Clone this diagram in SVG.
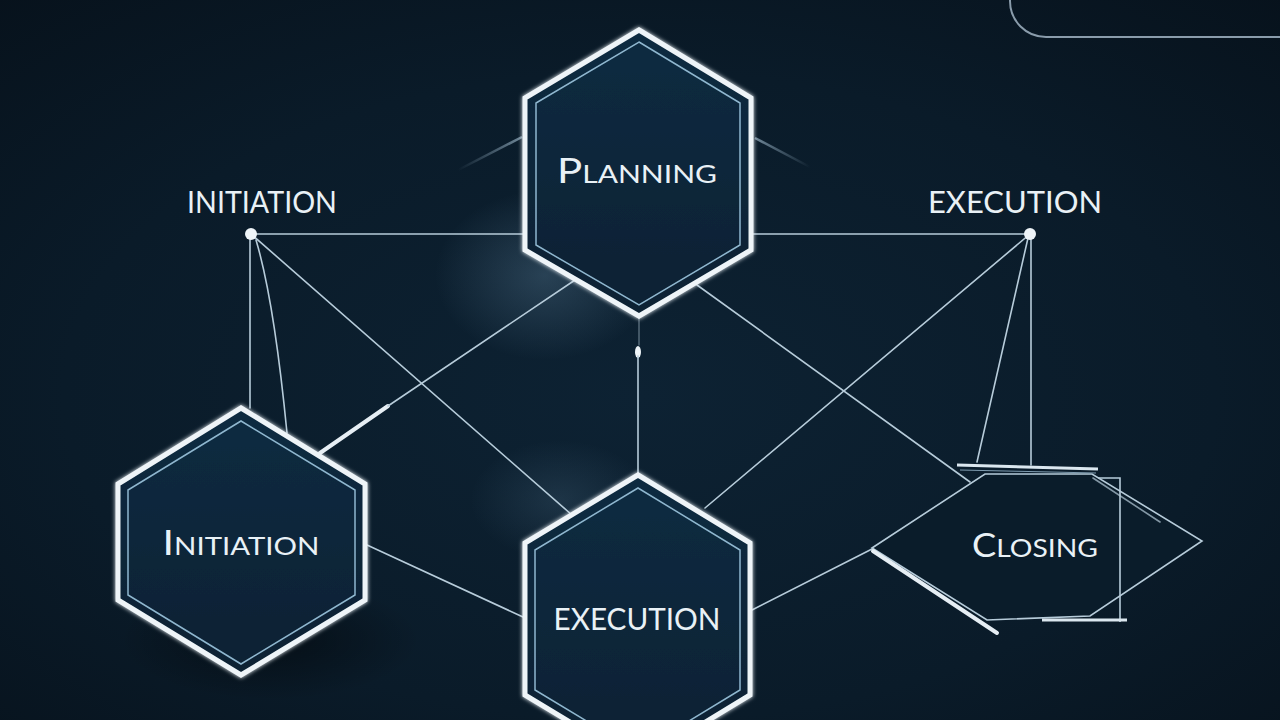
<svg xmlns="http://www.w3.org/2000/svg" width="1280" height="720" viewBox="0 0 1280 720">
  <defs>
    <radialGradient id="bg" cx="0.5" cy="0.55" r="0.75">
      <stop offset="0" stop-color="#0d2233"/>
      <stop offset="0.6" stop-color="#0a1b29"/>
      <stop offset="1" stop-color="#07121c"/>
    </radialGradient>
    <linearGradient id="hexFill" x1="0" y1="0" x2="0" y2="1">
      <stop offset="0" stop-color="#0e2b41"/>
      <stop offset="1" stop-color="#0a2133"/>
    </linearGradient>
    <radialGradient id="glow" cx="0.5" cy="0.5" r="0.5">
      <stop offset="0" stop-color="#8fbcdc" stop-opacity="0.22"/>
      <stop offset="1" stop-color="#8fbcdc" stop-opacity="0"/>
    </radialGradient>
    <radialGradient id="shadow" cx="0.5" cy="0.5" r="0.5">
      <stop offset="0" stop-color="#000000" stop-opacity="0.45"/>
      <stop offset="1" stop-color="#000000" stop-opacity="0"/>
    </radialGradient>
    <linearGradient id="fadeL" x1="0" y1="0" x2="1" y2="0">
      <stop offset="0" stop-color="#9ab4c6" stop-opacity="0"/>
      <stop offset="1" stop-color="#9ab4c6" stop-opacity="0.7"/>
    </linearGradient>
    <linearGradient id="fadeR" x1="0" y1="0" x2="1" y2="0">
      <stop offset="0" stop-color="#9ab4c6" stop-opacity="0.7"/>
      <stop offset="1" stop-color="#9ab4c6" stop-opacity="0"/>
    </linearGradient>
    <filter id="soft" x="-20%" y="-20%" width="140%" height="140%">
      <feGaussianBlur in="SourceGraphic" stdDeviation="2" result="b"/>
      <feMerge><feMergeNode in="b"/><feMergeNode in="SourceGraphic"/></feMerge>
    </filter>
    <style>
      .outer { fill: url(#hexFill); stroke: #eef4f8; stroke-width: 5; stroke-linejoin: miter; }
      .inner { fill: none; stroke: #8fb7cf; stroke-width: 1.5; }
      .conn { stroke: #b7ccda; stroke-width: 1.6; fill: none; stroke-linecap: round; }
      .thick { stroke: #e6eef4; stroke-width: 4; fill: none; stroke-linecap: round; }
      .lbl { font-family: "Lato", "Open Sans", "Liberation Sans", sans-serif; fill: #e9f1f6; text-anchor: middle; }
      .dot { fill: #eef4f8; }
    </style>
  </defs>

  <rect width="1280" height="720" fill="url(#bg)"/>
  <ellipse cx="545" cy="275" rx="110" ry="85" fill="url(#glow)"/>
  <ellipse cx="560" cy="500" rx="90" ry="60" fill="url(#glow)" opacity="0.6"/>
  <ellipse cx="270" cy="640" rx="150" ry="60" fill="url(#shadow)"/>

  <!-- top-right decorative frame -->
  <rect x="1010" y="-120" width="400" height="157" rx="36" fill="none" stroke="#8a9cab" stroke-width="2"/>

  <g id="connectors">
    <line class="conn" x1="251" y1="234" x2="525" y2="234"/>
    <line class="conn" x1="751" y1="234" x2="1030" y2="234"/>
    <line class="conn" x1="250" y1="234" x2="250" y2="408"/>
    <path class="conn" d="M256 240 Q274 300 287 433"/>
    <line class="conn" x1="251" y1="234" x2="572" y2="515"/>
    <line class="thick" x1="320" y1="453" x2="388" y2="406"/>
    <line class="conn" x1="388" y1="406" x2="578" y2="278"/>
    <line class="conn" x1="367" y1="545" x2="523" y2="617"/>
    <line class="conn" x1="639" y1="318" x2="639" y2="345" opacity="0.4"/>
    <ellipse class="dot" cx="638" cy="352" rx="3" ry="6"/>
    <line class="conn" x1="638" y1="356" x2="638" y2="474"/>
    <line class="conn" x1="697" y1="285" x2="970" y2="482"/>
    <line class="conn" x1="1030" y1="234" x2="705" y2="508"/>
    <line class="conn" x1="1031" y1="234" x2="1031" y2="465"/>
    <line class="conn" x1="1028" y1="238" x2="977" y2="462"/>
    <line class="conn" x1="752" y1="610" x2="872" y2="549"/>
    <line x1="458" y1="170" x2="522" y2="137" stroke="url(#fadeL)" stroke-width="2.5"/>
    <line x1="755" y1="138" x2="810" y2="167" stroke="url(#fadeR)" stroke-width="2.5"/>
    <circle class="dot" cx="251" cy="234" r="6"/>
    <circle class="dot" cx="1030" cy="234" r="6"/>
  </g>

  <g id="label-initiation">
    <text class="lbl" x="262" y="213" font-size="30" textLength="150" lengthAdjust="spacingAndGlyphs">INITIATION</text>
  </g>
  <g id="label-execution">
    <text class="lbl" x="1015" y="213" font-size="30" textLength="174" lengthAdjust="spacingAndGlyphs">EXECUTION</text>
  </g>

  <g id="planning">
    <polygon class="outer" filter="url(#soft)" points="639,30 751,98 751,250 639,316 525,250 525,98"/>
    <polygon class="inner" points="639,42 740,103 740,245 639,305 536,245 536,103"/>
    <text class="lbl" x="637" y="183" textLength="160" lengthAdjust="spacingAndGlyphs"><tspan font-size="35">P</tspan><tspan font-size="25">LANNING</tspan></text>
  </g>

  <g id="initiation">
    <polygon class="outer" filter="url(#soft)" points="241,408 365,484 365,600 241,675 118,600 118,484"/>
    <polygon class="inner" points="241,421 355,490 355,595 241,664 128,595 128,490"/>
    <text class="lbl" x="241" y="555" textLength="157" lengthAdjust="spacingAndGlyphs"><tspan font-size="35">I</tspan><tspan font-size="25">NITIATION</tspan></text>
  </g>

  <g id="execution">
    <polygon class="outer" filter="url(#soft)" points="638,475 750,543 750,695 638,763 525,695 525,543"/>
    <polygon class="inner" points="638,488 740,550 740,690 638,752 535,690 535,550"/>
    <text class="lbl" x="637" y="630" font-size="30" textLength="167" lengthAdjust="spacingAndGlyphs">EXECUTION</text>
  </g>

  <g id="closing">
    <polygon points="872,548 985,474 1092,474 1202,541 1090,616 987,620" fill="#0a1c2a" stroke="#b7ccda" stroke-width="1.6"/>
    <line class="conn" x1="1093" y1="478" x2="1160" y2="522" opacity="0.7"/>
    <line class="thick" x1="873" y1="551" x2="997" y2="633"/>
    <line x1="957" y1="465" x2="1098" y2="469" stroke="#dbe7ef" stroke-width="3"/>
    <line x1="960" y1="470" x2="1096" y2="473" stroke="#7f9cb0" stroke-width="1"/>
    <path d="M1098 478 L1120 478 L1120 622" fill="none" stroke="#b7ccda" stroke-width="1.6"/>
    <line x1="1042" y1="620" x2="1127" y2="620" stroke="#dbe7ef" stroke-width="3"/>
    <text class="lbl" x="1035" y="557" textLength="126" lengthAdjust="spacingAndGlyphs"><tspan font-size="32">C</tspan><tspan font-size="25">LOSING</tspan></text>
  </g>
</svg>
